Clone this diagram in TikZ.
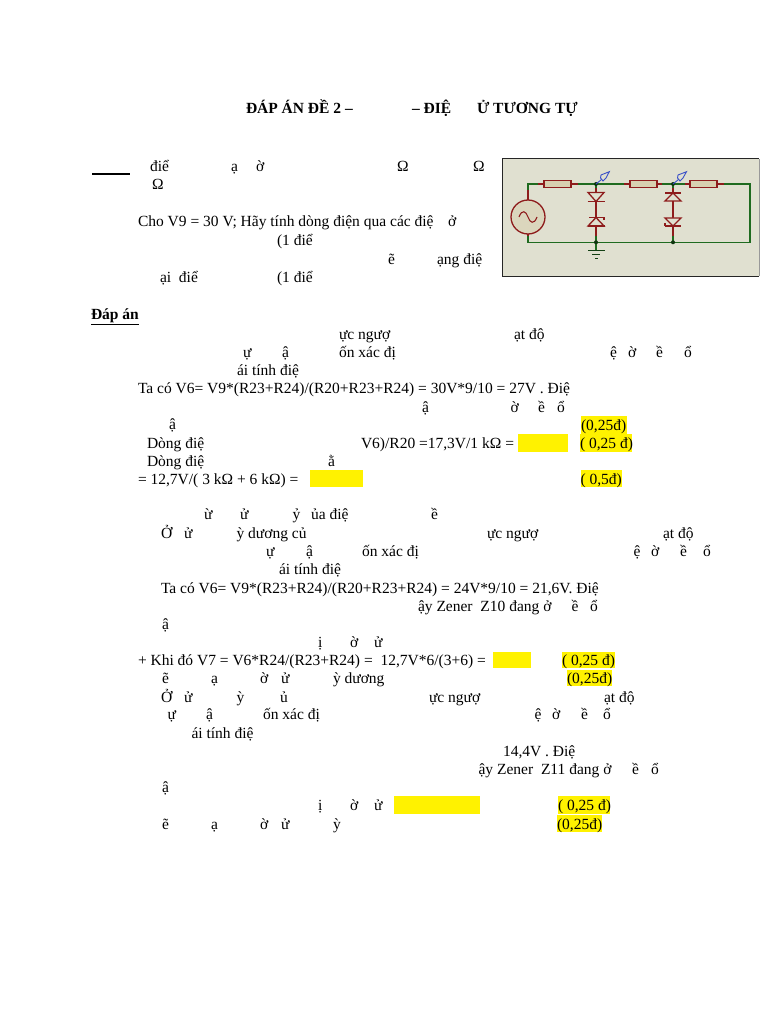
\documentclass[tikz,border=0pt]{standalone}
\usepackage{fontspec}
\setmainfont{Liberation Serif}
\definecolor{panel}{HTML}{E0E0D0}
\definecolor{wire}{HTML}{1F6B1F}
\definecolor{comp}{HTML}{8E1C1C}
\definecolor{resfill}{HTML}{D8D0B0}
\definecolor{probe}{HTML}{3A50C8}
\newcounter{tc}
\newcommand{\TT}[3]{\stepcounter{tc}\node[txt] (t\arabic{tc}) at (#1,#2) {#3};}
\newcommand{\TB}[3]{\stepcounter{tc}\node[txt,font=\fontsize{15.5}{18}\selectfont\bfseries] (t\arabic{tc}) at (#1,#2) {#3};}
\newcommand{\HL}[4]{\fill[yellow] (#1,#2) rectangle (#3,#4);}
\begin{document}
\begin{tikzpicture}[x=1pt,y=-1pt,
  txt/.style={inner sep=0pt,outer sep=0pt,anchor=base west,yshift=-1pt,font=\fontsize{15.5}{18}\selectfont,text=black},
  wireline/.style={draw=wire,line width=1.3pt},
  lead/.style={draw=comp,line width=1.3pt},
  resbox/.style={draw=comp,fill=resfill,line width=1.3pt},
  dio/.style={draw=comp,fill=panel,line width=1.3pt,line join=miter},
  probeline/.style={draw=probe,line width=0.9pt,fill=panel}]
\path[use as bounding box,fill=white] (0,0) rectangle (768,1024);

% highlights
\HL{581}{416}{627}{435}
\HL{518}{434}{568}{452}
\HL{580}{434}{632}{452}
\HL{310}{470}{363}{487}
\HL{580.5}{470}{622}{487}
\HL{492.5}{652}{531}{668}
\HL{562}{652}{614.5}{668}
\HL{567}{670}{611.5}{686}
\HL{393.5}{796}{480}{814}
\HL{558}{796}{610}{814}
\HL{557}{815}{602}{832}

% heading
\TB{246}{113}{ĐÁP ÁN ĐỀ 2 –}
\TB{412}{113}{– ĐIỆ}
\TB{477}{113}{Ử TƯƠNG TỰ}

% question
\draw[black,line width=2pt] (92,174) -- (130,174);
\TT{150}{171}{điể}
\TT{231}{171}{ạ}
\TT{256}{171}{ờ}
\TT{397}{171}{Ω}
\TT{473}{171}{Ω}
\TT{152}{189}{Ω}
\TT{138}{225}{Cho V9 = 30 V; Hãy tính dòng điện qua các điệ}
\TT{448}{225}{ở}
\TT{277}{244}{(1 điể}
\TT{388}{263}{ẽ}
\TT{437}{263}{ạng điệ}
\TT{160}{281}{ại~ điể}
\TT{277}{281}{(1 điể}

% answer
\TB{91}{318}{\underline{Đáp án}}
\TT{339}{338}{ực ngượ}
\TT{514}{338}{ạt độ}
\TT{243}{356}{ự}
\TT{282}{356}{ậ}
\TT{339}{356}{ốn xác đị}
\TT{610}{356}{ệ}
\TT{628}{356}{ờ}
\TT{656}{356}{ề}
\TT{684}{356}{ổ}
\TT{237}{374}{ái tính điệ}
\TT{138}{392}{Ta có V6= V9*(R23+R24)/(R20+R23+R24) = 30V*9/10 = 27V . Điệ}
\TT{422}{411}{ậ}
\TT{510.5}{411}{ờ}
\TT{538}{411}{ề}
\TT{557}{411}{ổ}
\TT{169}{428}{ậ}
\TT{581}{429}{(0,25đ)}
\TT{147}{447}{Dòng điệ}
\TT{361}{447}{V6)/R20 =17,3V/1 kΩ =}
\TT{580}{447}{( 0,25 đ)}
\TT{147}{465}{Dòng điệ}
\TT{328}{465}{ằ}
\TT{138}{483}{= 12,7V/( 3 kΩ + 6 kΩ) =}
\TT{580.5}{483}{( 0,5đ)}

\TT{204}{518}{ừ}
\TT{240}{518}{ử}
\TT{292.5}{518}{ỷ}
\TT{311}{518}{ủa điệ}
\TT{431}{518}{ề}
\TT{161}{537}{Ở}
\TT{184}{537}{ử}
\TT{236.6}{537}{ỳ dương củ}
\TT{487}{537}{ực ngượ}
\TT{663}{537}{ạt độ}
\TT{266}{555}{ự}
\TT{306}{555}{ậ}
\TT{362}{555}{ốn xác đị}
\TT{633.5}{555}{ệ}
\TT{651}{555}{ờ}
\TT{680}{555}{ề}
\TT{703}{555}{ổ}
\TT{279}{573}{ái tính điệ}
\TT{161}{592}{Ta có V6= V9*(R23+R24)/(R20+R23+R24) = 24V*9/10 = 21,6V. Điệ}
\TT{418}{610}{ậy Zener~ Z10 đang ở}
\TT{571.6}{610}{ề}
\TT{590}{610}{ổ}
\TT{162}{628}{ậ}
\TT{318}{646}{ị}
\TT{350}{646}{ờ}
\TT{374}{646}{ử}
\TT{138}{664}{+ Khi đó V7 = V6*R24/(R23+R24) =~ 12,7V*6/(3+6) =}
\TT{562}{664}{( 0,25 đ)}
\TT{162}{682}{ẽ}
\TT{211}{682}{ạ}
\TT{260}{682}{ờ}
\TT{281}{682}{ử}
\TT{333}{682}{ỳ dương}
\TT{567}{682}{(0,25đ)}
\TT{161}{701}{Ở}
\TT{184}{701}{ử}
\TT{236.6}{701}{ỳ}
\TT{280}{701}{ủ}
\TT{429}{701}{ực ngượ}
\TT{604}{701}{ạt độ}
\TT{167.5}{718}{ự}
\TT{206}{718}{ậ}
\TT{263}{718}{ốn xác đị}
\TT{534.5}{718}{ệ}
\TT{552}{718}{ờ}
\TT{581}{718}{ề}
\TT{603}{718}{ổ}
\TT{191.5}{737}{ái tính điệ}
\TT{503}{755}{14,4V . Điệ}
\TT{478.6}{773}{ậy Zener~ Z11 đang ở}
\TT{632}{773}{ề}
\TT{651}{773}{ổ}
\TT{162}{791}{ậ}
\TT{318}{809}{ị}
\TT{350}{809}{ờ}
\TT{374}{809}{ử}
\TT{558}{809}{( 0,25 đ)}
\TT{162}{828}{ẽ}
\TT{211}{828}{ạ}
\TT{260}{828}{ờ}
\TT{281}{828}{ử}
\TT{333}{828}{ỳ}
\TT{557}{828}{(0,25đ)}

% circuit panel
\fill[panel] (502,159) rectangle (759,276);
\draw[black!85,line width=1pt] (502,276) -- (502,159) -- (759,159);
\draw[black!85,line width=1pt] (502,276) -- (759,276);
\draw[black!40,line width=0.7pt] (759,159) -- (759,276);

% wires
\coordinate (tl) at (528,184);
\coordinate (bl) at (528,242.3);
\coordinate (tr) at (750,184);
\coordinate (br) at (750,242.3);
\coordinate (n1) at (596,184);
\coordinate (n2) at (673,184);
\coordinate (g1) at (596,242.3);
\coordinate (g2) at (673,242.3);
\coordinate (gnd) at (596,250);
\draw[wireline] (528,200) -- (tl) -- (538,184);
\draw[wireline] (578,184) -- (624,184);
\draw[wireline] (662,184) -- (685,184);
\draw[wireline] (724,184) -- (tr) -- (br) -- (bl) -- (528,232);
\draw[lead] (538,184) -- (544,184) (571,184) -- (578,184);
\draw[lead] (624,184) -- (630,184) (657,184) -- (662,184);
\draw[lead] (685,184) -- (690,184) (717,184) -- (724,184);
\draw[lead] (528,190) -- (528,202) (528,232) -- (528,236);
% resistors
\node[resbox,draw,minimum width=27pt,minimum height=6.5pt,inner sep=0pt] (r20) at (557.5,184) {};
\node[resbox,draw,minimum width=27pt,minimum height=6.5pt,inner sep=0pt] (r23) at (643.5,184) {};
\node[resbox,draw,minimum width=27pt,minimum height=6.5pt,inner sep=0pt] (r24) at (703.5,184) {};
% source
\node[circle,draw=comp,fill=resfill!60!panel,line width=1.3pt,minimum size=34pt,inner sep=0pt] (src) at (528,217) {};
\draw[comp,line width=1.1pt] (519,217) .. controls (522,209) and (526,211) .. (528,217) .. controls (530,223) and (534,225) .. (537,217);
% zener stacks
\draw[lead] (n1) -- (g1) (n2) -- (g2);
\draw[wireline] (596,184) -- (596,188) (596,236) -- (g1) -- (gnd);
\draw[wireline] (673,184) -- (673,188) (673,236) -- (g2);
% Z left upper (points down)
\draw[dio] (588,192.5) -- (604,192.5) -- (596,201.5) -- cycle;
\draw[comp,line width=1.3pt] (587.5,201.5) -- (604.5,201.5);
% Z left lower (points up)
\draw[dio] (596,217.5) -- (604,226) -- (588,226) -- cycle;
\draw[comp,line width=1.3pt] (587.5,226) -- (604.5,226);
\draw[comp,line width=1.3pt] (589,217.5) -- (604,217.5) -- (604,220);
% Z right upper (points up)
\draw[dio] (673,193) -- (681,201) -- (665,201) -- cycle;
\draw[comp,line width=1.3pt] (665,193) -- (681,193);
% Z right lower (points down)
\draw[dio] (665,218) -- (681,218) -- (673,226) -- cycle;
\draw[comp,line width=1.3pt] (665,226) -- (681,226);
\draw[comp,line width=1.3pt] (665,223) -- (665,226);
% ground
\draw[wire!60!black,line width=1.2pt] (gnd) -- (596,250.3);
\draw[wire!60!black,line width=1.2pt] (588,250.3) -- (605,250.3);
\draw[wire!60!black,line width=1.2pt] (592,254.6) -- (600,254.6);
\draw[wire!60!black,line width=1.2pt] (595,258.6) -- (597.5,258.6);
% junction dots
\foreach \p in {n1,n2,g1,g2} \fill[black!30!wire!70!black] (\p) circle (2pt);
% probes
\draw[probeline,line join=miter] (609.3,171.7) -- (601,175) -- (600.5,178) -- (603,181) -- (606,178) -- cycle;
\draw[probe,line width=0.9pt] (n1) -- (601.5,179.5);
\draw[probeline,line join=miter] (686.5,171.7) -- (678,175) -- (677.5,178) -- (680,181) -- (683,178) -- cycle;
\draw[probe,line width=0.9pt] (n2) -- (678.5,179.5);
\end{tikzpicture}
\end{document}
